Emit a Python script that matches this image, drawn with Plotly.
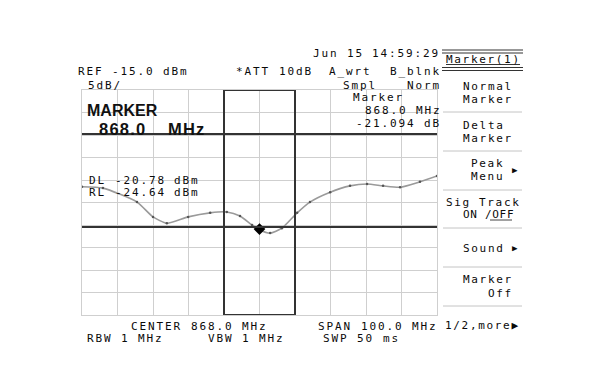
import re
import plotly.graph_objects as go

# ---------------- data ----------------
freq_mhz = [818.0, 823.9, 833.5, 838.0, 841.9, 847.9, 854.1, 858.8, 862.5, 865.9,
            868.1, 871.0, 874.3, 878.6, 882.2, 887.9, 893.5, 898.3, 902.8, 907.6,
            913.2, 918.0]
level_dbm = [-36.5, -36.8, -39.9, -43.2, -44.6, -43.2, -42.3, -42.1, -43.0, -45.0,
             -46.1, -46.8, -45.7, -42.3, -39.9, -37.7, -36.3, -35.9, -36.3, -36.6,
             -35.4, -34.1]
marker_freq = [868.0]
marker_level = [-45.9]
box_freq = [858.0, 878.0]
hlines_dbm = [-24.78, -45.44]
x_range = [818.0, 918.0]
y_range = [-65.0, -15.0]

# ---------------- geometry (pixels) ----------------
W, H = 600, 378
PL, PR, PT, PB = 82, 437, 90, 315


def fx(px):
    return (px - PL) / (PR - PL)


def fy(py):
    return (PB - py) / (PB - PT)


FONT = "DejaVu Sans Mono"
TXT = "#0a0a0a"
FS = 11
annotations = []
shapes = []


def mono(text, x0, yc, pitch=8.5, size=FS, right=None):
    if right is not None:
        x0 = right - len(text) * pitch
    ls = pitch - 0.602 * size
    for m in re.finditer(r"\S+", text):
        annotations.append(dict(
            text=f'<span style="letter-spacing:{ls:.2f}px">{m.group(0)}</span>',
            xref="paper", yref="paper", x=fx(x0 + m.start() * pitch), y=fy(yc),
            xanchor="left", yanchor="middle", showarrow=False, borderpad=0,
            font=dict(family=FONT, size=size, color=TXT, weight=500)))


def label(text, x0, yc, size=16, family="Liberation Sans", ls=0.0):
    for m in re.finditer(r"\S+", text):
        annotations.append(dict(
            text=f'<b><span style="letter-spacing:{ls}px">{m.group(0)}</span></b>',
            xref="paper", yref="paper",
            x=fx(x0 + m.start() * (size * 0.62 + ls)), y=fy(yc),
            xanchor="left", yanchor="middle",
            showarrow=False, borderpad=0,
            font=dict(family=family, size=size, color="#111")))


def pline(x0, y0, x1, y1, color="#333", width=1):
    shapes.append(dict(type="line", xref="paper", yref="paper",
                       x0=fx(x0), y0=fy(y0), x1=fx(x1), y1=fy(y1),
                       line=dict(color=color, width=width), layer="above"))


# header texts
mono("Jun 15 14:59:29", 0, 53, right=439)
mono("REF -15.0 dBm", 77, 72)
mono("*ATT 10dB", 235, 72)
mono("A_wrt", 328, 72)
mono("B_blnk", 0, 72, right=440)
mono("5dB/", 87, 85)
mono("Smpl", 342, 85.5)
mono("Norm", 0, 85.5, right=440)
mono("Marker", 352, 97.5)
mono("868.0 MHz", 0, 110.5, right=440)
mono("-21.094 dB", 0, 123.8, right=440)

# marker big label
label("MARKER", 86, 110, size=16)
label("868.0 MHz", 98, 129, size=16.5, ls=1.2)

# display / ref level texts
mono("DL -20.78 dBm", 88, 180)
mono("RL -24.64 dBm", 88, 192)

# bottom texts
mono("CENTER 868.0 MHz", 130, 326)
mono("SPAN 100.0 MHz", 317, 326)
mono("RBW 1 MHz", 86, 338)
mono("VBW 1 MHz", 207, 338)
mono("SWP 50 ms", 322, 338)

# right side menu
MP = 8.3
MX = 445
mono("Marker(1)", MX, 59, pitch=MP)
mono("Normal", MX + 2 * MP, 86, pitch=MP)
mono("Marker", MX + 2 * MP, 99, pitch=MP)
mono("Delta", MX + 2 * MP, 125, pitch=MP)
mono("Marker", MX + 2 * MP, 138, pitch=MP)
mono("Peak", MX + 3 * MP, 163, pitch=MP)
mono("Menu", MX + 3 * MP, 176, pitch=MP)
mono("\u25B6", MX + 8 * MP, 170, pitch=MP, size=9)
mono("Sig Track", MX, 202, pitch=MP)
mono("ON /OFF", MX + 2 * MP, 214, pitch=7.3)
mono("Sound", MX + 2 * MP, 248, pitch=MP)
mono("\u25B6", MX + 8 * MP, 248, pitch=MP, size=9)
mono("Marker", MX + 2 * MP, 279, pitch=MP)
mono("Off", MX + 5 * MP, 293, pitch=MP)
mono("1/2,more\u25B6", 444, 325, pitch=MP)

# menu lines
pline(442, 50, 523, 50, "#333", 1.2)
pline(442, 53, 523, 53, "#333", 1.2)
pline(446, 64.5, 520, 64.5, "#333", 1)
pline(442, 67.5, 523, 67.5, "#333", 1.2)
pline(442, 70.5, 523, 70.5, "#333", 1.2)
for sy in [112, 151, 190, 228, 267, 306]:
    pline(443, sy, 522, sy, "#c4c4c4", 1)
# underline of OFF
pline(490, 220, 512, 220, "#444", 1)

# box and thick horizontal lines (data coordinates)
shapes.append(dict(type="rect", xref="x", yref="y", x0=box_freq[0], x1=box_freq[1],
                   y0=y_range[0], y1=y_range[1], line=dict(color="#333", width=2),
                   layer="above"))
for lv in hlines_dbm:
    shapes.append(dict(type="line", xref="x", yref="y", x0=x_range[0], x1=x_range[1],
                       y0=lv, y1=lv, line=dict(color="#333", width=2), layer="above"))

fig = go.Figure()
fig.add_trace(go.Scatter(x=freq_mhz, y=level_dbm, mode="lines",
                         line=dict(color="#9a9a9a", width=1.6, shape="spline",
                                   smoothing=0.6),
                         hoverinfo="skip", showlegend=False))
fig.add_trace(go.Scatter(x=freq_mhz, y=level_dbm, mode="markers",
                         marker=dict(color="#555", size=2.5),
                         hoverinfo="skip", showlegend=False))
fig.add_trace(go.Scatter(x=marker_freq, y=marker_level, mode="markers",
                         marker=dict(color="#000", size=9, symbol="diamond"),
                         hoverinfo="skip", showlegend=False))

grid = "#cfcfcf"
fig.update_layout(
    width=W, height=H,
    margin=dict(l=PL, r=W - PR, t=PT, b=H - PB, pad=0),
    paper_bgcolor="white", plot_bgcolor="white",
    xaxis=dict(range=x_range, dtick=10, tick0=818, showgrid=True, gridcolor=grid,
               gridwidth=1, showticklabels=False, ticks="", zeroline=False,
               showline=True, linecolor=grid, linewidth=1, mirror=True),
    yaxis=dict(range=y_range, dtick=5, tick0=-65, showgrid=True, gridcolor=grid,
               gridwidth=1, showticklabels=False, ticks="", zeroline=False,
               showline=True, linecolor=grid, linewidth=1, mirror=True),
    annotations=annotations, shapes=shapes, showlegend=False,
)

fig.write_html("out.html")
